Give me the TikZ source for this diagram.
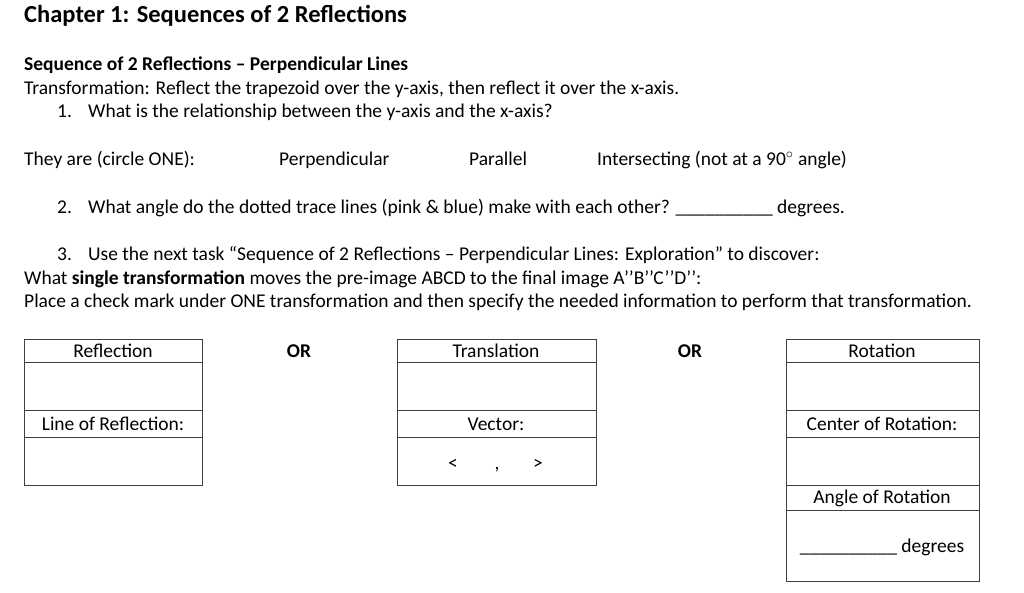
\documentclass[tikz,border=0pt]{standalone}
\usepackage{fontspec}
\setmainfont{Carlito}
\begin{document}
\begin{tikzpicture}[x=1pt,y=-1pt,
  txt/.style={anchor=base west,inner sep=0pt,font=\fontsize{19.5}{22}\selectfont},
  ctr/.style={anchor=base,inner sep=0pt,font=\fontsize{19.5}{22}\selectfont},
  cell/.style={draw=black!75,line width=0.8pt}]
\useasboundingbox (0,0) rectangle (1024,593);
\fill[white] (0,0) rectangle (1024,593);
\node[txt,font=\bfseries\fontsize{24.5}{28}\selectfont] (title) at (24,23) {Chapter 1: Sequences of 2 Reflections};
\node[txt,font=\bfseries\fontsize{19.5}{22}\selectfont] (sub) at (24,71) {Sequence of 2 Reflections -- Perpendicular Lines};
\node[txt] (tr) at (24,95) {Transformation: Reflect the trapezoid over the y-axis, then reflect it over the x-axis.};
\node[txt] (n1) at (57,118) {1.};
\node[txt] (q1) at (88,118) {What is the relationship between the y-axis and the x-axis?};
\node[txt] (they) at (24,166) {They are (circle ONE):};
\node[txt] (perp) at (279,166) {Perpendicular};
\node[txt] (par) at (469,166) {Parallel};
\node[txt] (inter) at (597,166) {Intersecting (not at a 90$^{\circ}$ angle)};
\node[txt] (n2) at (57,214) {2.};
\node[txt] (q2) at (88,214) {What angle do the dotted trace lines (pink \& blue) make with each other? \_\_\_\_\_\_\_\_\_\_ degrees.};
\node[txt] (n3) at (57,261) {3.};
\node[txt] (q3) at (88,261) {Use the next task “Sequence of 2 Reflections -- Perpendicular Lines: Exploration” to discover:};
\node[txt] (q3b) at (24,284) {What \textbf{single transformation} moves the pre-image ABCD to the final image A’’B’’C’’D’’:};
\node[txt] (q3c) at (24,307) {Place a check mark under ONE transformation and then specify the needed information to perform that transformation.};
% Reflection table
\draw[cell] (24,339) rectangle (202,485);
\foreach \yy in {362,410,437} \draw[cell] (24,\yy) -- (202,\yy);
\node[ctr] (rh) at (113,357) {Reflection};
\node[ctr] (rl) at (113,430) {Line of Reflection:};
\node[ctr,font=\bfseries\fontsize{19.5}{22}\selectfont] (or1) at (299,357) {OR};
% Translation table
\draw[cell] (397,339) rectangle (596,485);
\foreach \yy in {362,410,437} \draw[cell] (397,\yy) -- (596,\yy);
\node[ctr] (th) at (496,357) {Translation};
\node[ctr] (tv) at (496,430) {Vector:};
\node[ctr] (lt) at (453,469) {<};
\node[ctr] (cm) at (497,469) {,};
\node[ctr] (gt) at (538,469) {>};
\node[ctr,font=\bfseries\fontsize{19.5}{22}\selectfont] (or2) at (690,357) {OR};
% Rotation table
\draw[cell] (786,339) rectangle (979,581);
\foreach \yy in {362,410,437,485,510} \draw[cell] (786,\yy) -- (979,\yy);
\node[ctr] (roh) at (882,357) {Rotation};
\node[ctr] (roc) at (882,430) {Center of Rotation:};
\node[ctr] (roa) at (882,503) {Angle of Rotation};
\node[ctr] (rod) at (882,552) {\_\_\_\_\_\_\_\_\_\_ degrees};
\end{tikzpicture}
\end{document}
